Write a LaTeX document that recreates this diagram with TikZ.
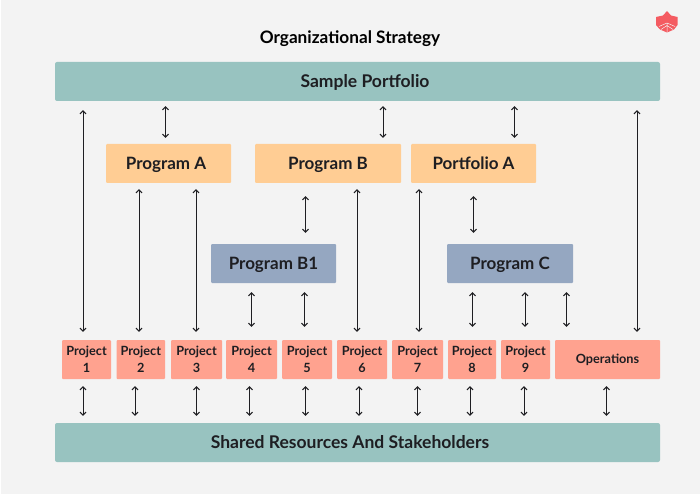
\documentclass[tikz,border=0pt]{standalone}
\usepackage{fontspec}
\setmainfont{Lato}
\usetikzlibrary{arrows.meta}
\definecolor{pagegray}{RGB}{243,243,243}
\definecolor{tealbar}{RGB}{152,195,192}
\definecolor{progorange}{RGB}{255,205,148}
\definecolor{progblue}{RGB}{149,167,193}
\definecolor{projsalmon}{RGB}{255,162,143}
\definecolor{logored}{RGB}{244,91,97}
\definecolor{inkdark}{RGB}{30,30,34}
\tikzset{
  barbox/.style={fill=tealbar, rounded corners=2pt, minimum height=39pt, text height=15pt, text depth=3pt, font=\bfseries\fontsize{17.5}{20}\selectfont, text=inkdark},
  progbox/.style={rounded corners=1pt, minimum height=39pt, text height=15pt, text depth=3pt, font=\bfseries\fontsize{17}{20}\selectfont, text=inkdark},
  projbox/.style={fill=projsalmon, rounded corners=1pt, minimum height=39pt, inner sep=0pt, align=center, font=\bfseries\fontsize{12.7}{16.5}\selectfont, text=inkdark},
  biarrow/.style={{Straight Barb[length=3pt,width=6pt]}-{Straight Barb[length=3pt,width=6pt]}, line width=1pt, inkdark}
}
\begin{document}
\begin{tikzpicture}[x=1pt, y=-1pt]
\useasboundingbox (0,0) rectangle (700,494);
\fill[white] (0,0) rectangle (700,494);
\fill[pagegray] (1,0) rectangle (700,494);

% Title and logo
\node[font=\bfseries\fontsize{17.2}{20}\selectfont, text=black] (title) at (350,38.5) {Organizational Strategy};
\fill[logored] (667,11) -- (671,15.5) -- (677.5,17) -- (677.5,25) -- (674,29.5) -- (667,32.5) -- (660,29.5) -- (656,25) -- (656,17) -- (663,15.5) -- cycle;
\draw[pagegray, line width=0.5pt] (667,23) -- (659,26.5) (667,23) -- (675,26.5) (667,25.5) -- (661,29.5) (667,25.5) -- (673,29.5) (667,23) -- (667,32.5);

% Top and bottom bars
\node[barbox, minimum width=605pt] (portfolio) at (357.5,81.5) {\hspace*{15pt}Sample Portfolio};
\node[barbox, minimum width=605pt] (shared) at (357.5,442.5) {Shared Resources And Stakeholders\hspace*{15pt}};

% Programs
\node[progbox, fill=progorange, minimum width=125pt] (progA) at (168.5,163.5) {Program A\hspace*{5pt}};
\node[progbox, fill=progorange, minimum width=146pt] (progB) at (328,163.5) {Program B};
\node[progbox, fill=progorange, minimum width=125pt] (portA) at (473.5,163.5) {Portfolio A};
\node[progbox, fill=progblue, minimum width=125pt] (progBone) at (273.5,263.5) {Program B1};
\node[progbox, fill=progblue, minimum width=126pt] (progC) at (510,263.5) {Program C};

% Projects
\foreach \n/\cx/\bw in {1/86.5/49, 2/140.75/48.5, 3/196.5/51, 4/251.5/51, 5/307/50, 6/362/50, 7/417.5/51, 8/472/48, 9/525.5/49}
  \node[projbox, minimum width=\bw pt] (proj\n) at (\cx,359.5) {Project\\\n};
\node[projbox, minimum width=105pt] (ops) at (607.5,359.5) {Operations};

% Arrows, bars to programs
\foreach \x/\a in {165.5/progA, 383/progB, 514.5/portA}
  \draw[biarrow, shorten <=5pt, shorten >=6pt] (\x,0 |- portfolio.south) -- (\x,0 |- \a.north);

% Arrows, bar to projects
\foreach \x/\b in {83/proj1, 637/ops}
  \draw[biarrow, shorten <=9pt, shorten >=8pt] (\x,0 |- portfolio.south) -- (\x,0 |- \b.north);

% Arrows, programs to projects
\foreach \x/\a/\b in {139/progA/proj2, 196/progA/proj3, 357/progB/proj6, 419/portA/proj7}
  \draw[biarrow, shorten <=6pt, shorten >=8pt] (\x,0 |- \a.south) -- (\x,0 |- \b.north);

% Arrows, programs to sub programs
\draw[biarrow, shorten <=13pt, shorten >=11pt] (305.5,0 |- progB.south) -- (305.5,0 |- progBone.north);
\draw[biarrow, shorten <=13pt, shorten >=11pt] (473.5,0 |- portA.south) -- (473.5,0 |- progC.north);

% Arrows, sub programs to projects
\foreach \x/\a/\b in {251.5/progBone/proj4, 304.5/progBone/proj5, 472.5/progC/proj8, 525/progC/proj9, 566.5/progC/ops}
  \draw[biarrow, shorten <=9pt, shorten >=13pt] (\x,0 |- \a.south) -- (\x,0 |- \b.north);

% Arrows, projects to shared
\foreach \x/\b in {83/proj1, 135/proj2, 196.5/proj3, 249.5/proj4, 305.5/proj5, 359/proj6, 417.5/proj7, 470/proj8, 524/proj9, 606.5/ops}
  \draw[biarrow, shorten <=7pt, shorten >=7pt] (\x,0 |- \b.south) -- (\x,0 |- shared.north);
\end{tikzpicture}
\end{document}
